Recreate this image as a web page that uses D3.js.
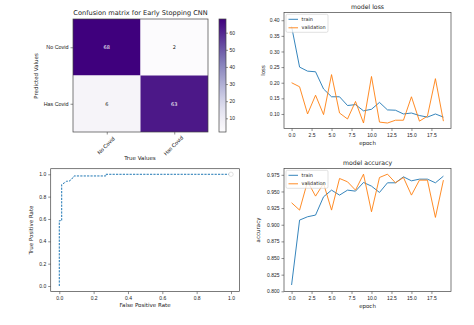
<!DOCTYPE html>
<html>
<head>
<meta charset="utf-8">
<script src="https://cdn.jsdelivr.net/npm/d3@7"></script>
<style>
body { margin: 0; background: #fff; }
svg { display: block; font-family: "DejaVu Sans", sans-serif; }
</style>
</head>
<body>
<svg id="chart" width="474" height="325"></svg>
<script>
// data
var cmLabels = ['No Covid', 'Has Covid'];
var cmValues = [[68, 2], [6, 63]]; // rows = predicted, cols = true
var cmTicks = [10, 20, 30, 40, 50, 60];

var epochs = d3.range(20);
var lossTrain = [0.38, 0.25, 0.237, 0.235, 0.18, 0.155, 0.155, 0.127, 0.13, 0.11,
                 0.115, 0.137, 0.113, 0.112, 0.10, 0.103, 0.095, 0.09, 0.10, 0.09];
var lossVal = [0.20, 0.187, 0.10, 0.16, 0.098, 0.226, 0.103, 0.084, 0.14, 0.071,
               0.22, 0.074, 0.071, 0.08, 0.08, 0.155, 0.077, 0.093, 0.213, 0.077];
var accTrain = [0.8095, 0.907, 0.912, 0.9145, 0.942, 0.952, 0.9445, 0.952, 0.9505, 0.9635,
                0.958, 0.9485, 0.963, 0.963, 0.972, 0.966, 0.9685, 0.9685, 0.963, 0.973];
var accVal = [0.933, 0.922, 0.965, 0.943, 0.962, 0.922, 0.9695, 0.9645, 0.952, 0.976,
              0.9195, 0.971, 0.976, 0.963, 0.971, 0.9445, 0.967, 0.967, 0.911, 0.967];
var epochTicks = [0, 2.5, 5, 7.5, 10, 12.5, 15, 17.5];
var lossTicks = [0.10, 0.15, 0.20, 0.25, 0.30, 0.35, 0.40];
var accTicks = [0.800, 0.825, 0.850, 0.875, 0.900, 0.925, 0.950, 0.975];

var rocFpr = [0, 0, 0.014, 0.014, 0.029, 0.043, 0.057, 0.071, 0.086, 0.271, 0.271, 1.0];
var rocTpr = [0, 0.585, 0.585, 0.908, 0.923, 0.938, 0.938, 0.954, 0.985, 0.985, 1.0, 1.0];
var rocTicks = [0, 0.2, 0.4, 0.6, 0.8, 1.0];

var svg = d3.select('#chart');
var frameCol = '#444';
var blue = '#1f77b4', orange = '#ff7f0e';

// generic axis styling
function styleAxis(g, size) {
  g.selectAll('path.domain').remove();
  g.selectAll('.tick line').attr('stroke', frameCol).attr('stroke-width', 0.6);
  g.selectAll('.tick text').attr('fill', '#222').style('font-size', (size || 5) + 'px');
}

function frame(x0, y0, x1, y1) {
  svg.append('rect')
    .attr('x', x0).attr('y', y0)
    .attr('width', x1 - x0).attr('height', y1 - y0)
    .attr('fill', 'none').attr('stroke', frameCol).attr('stroke-width', 0.7);
}

function label(x, y, txt, size, rot) {
  var t = svg.append('text')
    .attr('text-anchor', 'middle')
    .attr('fill', '#222')
    .style('font-size', size + 'px')
    .text(txt);
  if (rot) t.attr('transform', 'translate(' + x + ',' + y + ') rotate(' + rot + ')');
  else t.attr('x', x).attr('y', y);
  return t;
}

// ---------- confusion matrix ----------
var cmX = d3.scaleBand().domain([0, 1]).range([73, 208]);
var cmY = d3.scaleBand().domain([0, 1]).range([19, 132]);
var cmMin = 2, cmMax = 68;
var color = d3.scaleSequential(d3.interpolatePurples).domain([cmMin, cmMax]);

var cells = [];
cmValues.forEach(function (row, i) {
  row.forEach(function (v, j) { cells.push({r: i, c: j, v: v}); });
});

svg.append('g').selectAll('rect')
  .data(cells).enter().append('rect')
  .attr('x', d => cmX(d.c)).attr('y', d => cmY(d.r))
  .attr('width', cmX.bandwidth()).attr('height', cmY.bandwidth())
  .attr('fill', d => color(d.v));

svg.append('g').selectAll('text')
  .data(cells).enter().append('text')
  .attr('x', d => cmX(d.c) + cmX.bandwidth() / 2)
  .attr('y', d => cmY(d.r) + cmY.bandwidth() / 2 + 1.8)
  .attr('text-anchor', 'middle')
  .style('font-size', '5px')
  .attr('fill', d => d.v > 35 ? '#fff' : '#222')
  .text(d => d.v);

frame(73, 19, 208, 132);

// y ticks
var cmYAxis = svg.append('g').attr('transform', 'translate(73,0)')
  .call(d3.axisLeft(d3.scalePoint().domain(cmLabels).range([19 + cmY.bandwidth() / 2, 132 - cmY.bandwidth() / 2]))
    .tickSize(2.5).tickPadding(2));
styleAxis(cmYAxis, 5.4);

// x ticks, rotated labels
var cmXAxis = svg.append('g').attr('transform', 'translate(0,132)')
  .call(d3.axisBottom(d3.scalePoint().domain(cmLabels).range([73 + cmX.bandwidth() / 2, 208 - cmX.bandwidth() / 2]))
    .tickSize(2.5));
styleAxis(cmXAxis, 5.4);
cmXAxis.selectAll('.tick text')
  .attr('y', 0).attr('dy', 0)
  .attr('text-anchor', 'middle')
  .attr('transform', 'translate(0,15) rotate(-45)');

label(140.5, 15, 'Confusion matrix for Early Stopping CNN', 6.6);
label(140, 160, 'True Values', 5.5);
label(37.5, 76, 'Predicted Values', 5.5, -90);

// colorbar
var cbY = d3.scaleLinear().domain([cmMin, cmMax]).range([132, 19]);
var grad = svg.append('defs').append('linearGradient')
  .attr('id', 'cbgrad').attr('x1', 0).attr('y1', 1).attr('x2', 0).attr('y2', 0);
grad.selectAll('stop').data(d3.range(0, 1.001, 0.1)).enter().append('stop')
  .attr('offset', d => d)
  .attr('stop-color', d => d3.interpolatePurples(d));
svg.append('rect').attr('x', 219).attr('y', 19).attr('width', 7).attr('height', 113)
  .attr('fill', 'url(#cbgrad)');
frame(219, 19, 226, 132);
var cbAxis = svg.append('g').attr('transform', 'translate(226,0)')
  .call(d3.axisRight(cbY).tickValues(cmTicks).tickSize(2).tickPadding(1.5));
styleAxis(cbAxis, 4.9);

// ---------- line panels ----------
function linePanel(opt) {
  var x = d3.scaleLinear().domain([-0.95, 19.95]).range([opt.x0, opt.x1]);
  var y = d3.scaleLinear().domain(opt.yDomain).range([opt.y1, opt.y0]);

  var line = d3.line().x((d, i) => x(epochs[i])).y(d => y(d));
  svg.append('path').datum(opt.train)
    .attr('d', line).attr('fill', 'none').attr('stroke', blue).attr('stroke-width', 0.9);
  svg.append('path').datum(opt.val)
    .attr('d', line).attr('fill', 'none').attr('stroke', orange).attr('stroke-width', 0.9);

  frame(opt.x0, opt.y0, opt.x1, opt.y1);

  var ax = svg.append('g').attr('transform', 'translate(0,' + opt.y1 + ')')
    .call(d3.axisBottom(x).tickValues(epochTicks).tickFormat(d3.format('.1f')).tickSize(2.5).tickPadding(2));
  styleAxis(ax, 5);
  var ay = svg.append('g').attr('transform', 'translate(' + opt.x0 + ',0)')
    .call(d3.axisLeft(y).tickValues(opt.yTicks).tickFormat(opt.fmt).tickSize(2.5).tickPadding(2));
  styleAxis(ay, 5);

  label((opt.x0 + opt.x1) / 2, opt.y0 - 4, opt.title, 6.2);
  label((opt.x0 + opt.x1) / 2, opt.y1 + 16, 'epoch', 5.5);
  label(opt.ylx, (opt.y0 + opt.y1) / 2, opt.ylabel, 5.5, -90);

  // legend
  var lg = svg.append('g').attr('transform', 'translate(' + (opt.x0 + 2) + ',' + (opt.y0 + 1.8) + ')');
  lg.append('rect').attr('width', 42).attr('height', 18).attr('rx', 1.5)
    .attr('fill', '#fff').attr('fill-opacity', 0.8)
    .attr('stroke', '#ccc').attr('stroke-width', 0.6);
  [['train', blue], ['validation', orange]].forEach(function (d, i) {
    var yy = 5 + i * 8.5;
    lg.append('line').attr('x1', 2.5).attr('x2', 12).attr('y1', yy).attr('y2', yy)
      .attr('stroke', d[1]).attr('stroke-width', 0.9);
    lg.append('text').attr('x', 15.5).attr('y', yy + 1.7)
      .style('font-size', '4.9px').attr('fill', '#222').text(d[0]);
  });
}

linePanel({
  x0: 284, x1: 451, y0: 12.5, y1: 128.5,
  yDomain: [0.0535, 0.4247], yTicks: lossTicks, fmt: d3.format('.2f'),
  train: lossTrain, val: lossVal,
  title: 'model loss', ylabel: 'loss', ylx: 265
});

linePanel({
  x0: 284, x1: 451, y0: 168.5, y1: 291.5,
  yDomain: [0.7997, 0.9845], yTicks: accTicks, fmt: d3.format('.3f'),
  train: accTrain, val: accVal,
  title: 'model accuracy', ylabel: 'accuracy', ylx: 260
});

// ---------- ROC ----------
var rx = d3.scaleLinear().domain([-0.05, 1.05]).range([50.7, 239.6]);
var ry = d3.scaleLinear().domain([-0.05, 1.05]).range([291.6, 168.7]);

svg.append('path').datum(rocFpr)
  .attr('d', d3.line().x(d => rx(d)).y((d, i) => ry(rocTpr[i])))
  .attr('fill', 'none').attr('stroke', blue).attr('stroke-width', 1)
  .attr('stroke-dasharray', '2.2,1.2');

svg.append('circle').attr('cx', rx(1.0)).attr('cy', ry(1.0)).attr('r', 2.2)
  .attr('fill', '#fff').attr('stroke', '#ccc').attr('stroke-width', 0.6);

frame(50.7, 168.7, 239.6, 291.6);

var rax = svg.append('g').attr('transform', 'translate(0,291.6)')
  .call(d3.axisBottom(rx).tickValues(rocTicks).tickFormat(d3.format('.1f')).tickSize(2.5).tickPadding(2));
styleAxis(rax, 5);
var ray = svg.append('g').attr('transform', 'translate(50.7,0)')
  .call(d3.axisLeft(ry).tickValues(rocTicks).tickFormat(d3.format('.1f')).tickSize(2.5).tickPadding(2));
styleAxis(ray, 5);

label(145, 307, 'False Positive Rate', 5.5);
label(33, 230, 'True Positive Rate', 5.5, -90);
</script>
</body>
</html>
